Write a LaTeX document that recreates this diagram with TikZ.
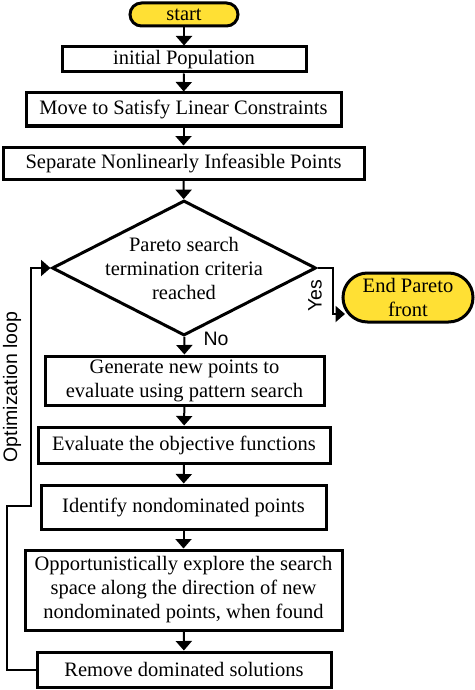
\documentclass[tikz,border=0pt]{standalone}
\usepackage{fontspec}
\setmainfont{Liberation Serif}
\newfontfamily\arialf{Liberation Sans}
\usetikzlibrary{arrows.meta,shapes.geometric,shapes.misc}
\definecolor{termyellow}{RGB}{255,224,52}
\tikzset{
  box/.style={draw=black, line width=3pt, fill=white, inner sep=0pt, align=center,
    font=\fontsize{20.5}{24}\selectfont},
  term/.style={draw=black, line width=3pt, fill=termyellow, rounded rectangle, inner sep=0pt,
    align=center, font=\fontsize{20.5}{24}\selectfont},
  arr/.style={line width=2pt, -{Triangle[width=16pt,length=9.5pt]}},
  lbl/.style={font=\arialf\fontsize{19.5}{22}\selectfont, inner sep=0pt},
}
\begin{document}
\begin{tikzpicture}[x=1pt,y=-1pt]
\useasboundingbox (0,0) rectangle (474,690);
\node[term, minimum width=108pt, minimum height=23pt] (start) at (184,14.5) {start};
\node[box, minimum width=244pt, minimum height=25pt] (init) at (184,59.5) {initial Population};
\node[box, minimum width=315pt, minimum height=33pt] (move) at (183.5,109.5) {Move to Satisfy Linear Constraints};
\node[box, minimum width=361pt, minimum height=32pt] (sep) at (183.5,163) {Separate Nonlinearly Infeasible Points};
\node[draw=black, line width=3pt, diamond, inner sep=0pt, minimum width=264pt, minimum height=135pt] (dia) at (184,268) {};
\node[align=center, inner sep=0pt, font=\fontsize{20.5}{24}\selectfont] (diat) at (184,268) {Pareto search\\termination criteria\\reached};
\node[term, minimum width=130pt, minimum height=49pt] (endp) at (408,297.5) {End Pareto\\front};
\node[box, minimum width=279pt, minimum height=49pt] (gen) at (184.5,380.5) {Generate new points to\\evaluate using pattern search};
\node[box, minimum width=292pt, minimum height=36pt] (eval) at (184,445) {Evaluate the objective functions};
\node[box, minimum width=285pt, minimum height=44pt] (ident) at (183.5,507) {Identify nondominated points};
\node[box, minimum width=317pt, minimum height=80pt] (opp) at (183.5,590) {Opportunistically explore the search\\space along the direction of new\\nondominated points, when found};
\node[box, minimum width=294pt, minimum height=35pt] (rem) at (184,669.5) {Remove dominated solutions};

\draw[arr] (start) -- (init);
\draw[arr] (init) -- (move);
\draw[arr] (move) -- (sep);
\draw[arr] (sep) -- (dia);
\draw[arr] (dia) -- (gen);
\draw[arr] (gen) -- (eval);
\draw[arr] (eval) -- (ident);
\draw[arr] (ident) -- (opp);
\draw[arr] (opp) -- (rem);

\coordinate (yk) at (333,314);
\coordinate (ye) at (345,314);
\draw[arr] (dia.east) -| (yk) -- (ye);

\coordinate (la) at (7,506);
\coordinate (lb) at (31,506);
\draw[arr] (rem.west) -| (la) -- (lb) |- (dia.west);

\node[lbl, rotate=90] (yes) at (315,296) {Yes};
\node[lbl] (no) at (216,339) {No};
\node[lbl, rotate=90] (oloop) at (12,387) {Optimization loop};
\end{tikzpicture}
\end{document}
